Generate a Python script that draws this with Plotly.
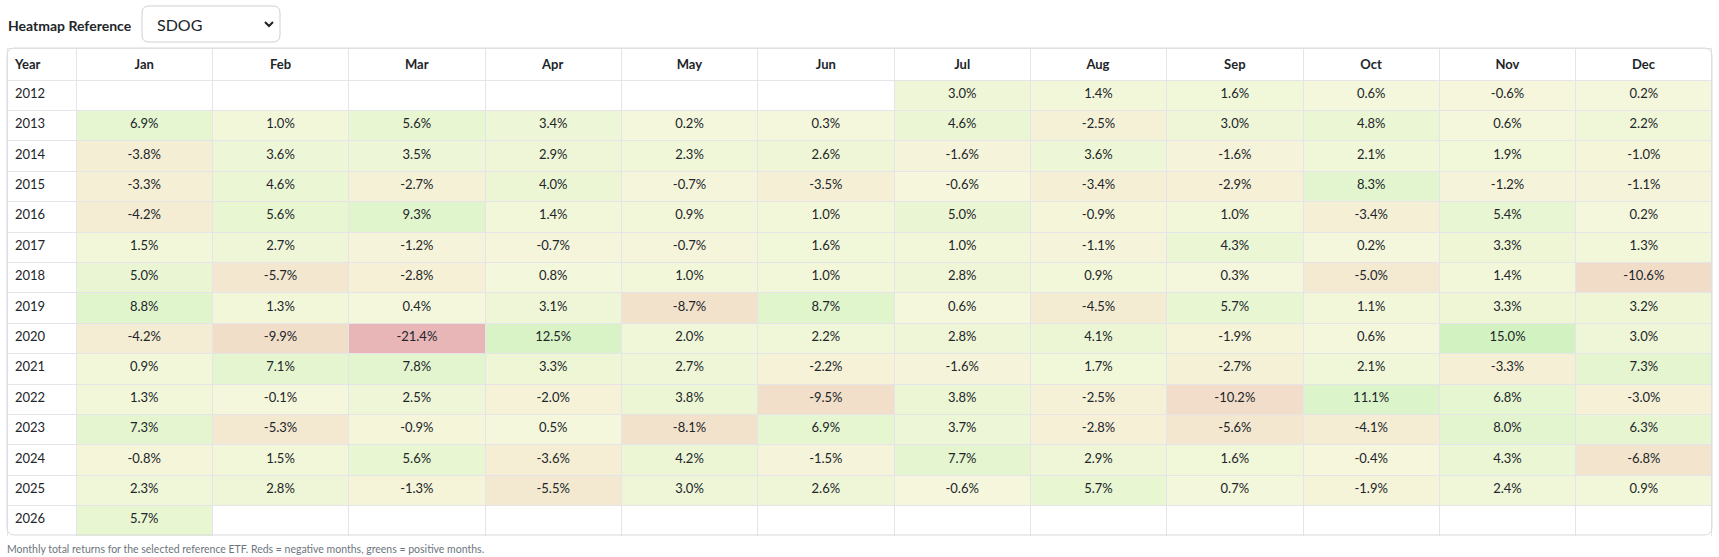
import plotly.graph_objects as go
from plotly.colors import sample_colorscale

W, H = 1719, 557

years = [str(y) for y in range(2012, 2027)]
months = ["Jan", "Feb", "Mar", "Apr", "May", "Jun", "Jul", "Aug", "Sep", "Oct", "Nov", "Dec"]

jan = [None, 6.9, -3.8, -3.3, -4.2, 1.5, 5.0, 8.8, -4.2, 0.9, 1.3, 7.3, -0.8, 2.3, 5.7]
feb = [None, 1.0, 3.6, 4.6, 5.6, 2.7, -5.7, 1.3, -9.9, 7.1, -0.1, -5.3, 1.5, 2.8, None]
mar = [None, 5.6, 3.5, -2.7, 9.3, -1.2, -2.8, 0.4, -21.4, 7.8, 2.5, -0.9, 5.6, -1.3, None]
apr = [None, 3.4, 2.9, 4.0, 1.4, -0.7, 0.8, 3.1, 12.5, 3.3, -2.0, 0.5, -3.6, -5.5, None]
may = [None, 0.2, 2.3, -0.7, 0.9, -0.7, 1.0, -8.7, 2.0, 2.7, 3.8, -8.1, 4.2, 3.0, None]
jun = [None, 0.3, 2.6, -3.5, 1.0, 1.6, 1.0, 8.7, 2.2, -2.2, -9.5, 6.9, -1.5, 2.6, None]
jul = [3.0, 4.6, -1.6, -0.6, 5.0, 1.0, 2.8, 0.6, 2.8, -1.6, 3.8, 3.7, 7.7, -0.6, None]
aug = [1.4, -2.5, 3.6, -3.4, -0.9, -1.1, 0.9, -4.5, 4.1, 1.7, -2.5, -2.8, 2.9, 5.7, None]
sep = [1.6, 3.0, -1.6, -2.9, 1.0, 4.3, 0.3, 5.7, -1.9, -2.7, -10.2, -5.6, 1.6, 0.7, None]
oct_ = [0.6, 4.8, 2.1, 8.3, -3.4, 0.2, -5.0, 1.1, 0.6, 2.1, 11.1, -4.1, -0.4, -1.9, None]
nov = [-0.6, 0.6, 1.9, -1.2, 5.4, 3.3, 1.4, 3.3, 15.0, -3.3, 6.8, 8.0, 4.3, 2.4, None]
dec = [0.2, 2.2, -1.0, -1.1, 0.2, 1.3, -10.6, 3.2, 3.0, 7.3, -3.0, 6.3, -6.8, 0.9, None]

month_cols = [jan, feb, mar, apr, may, jun, jul, aug, sep, oct_, nov, dec]

# colour scale (value -> colour), red for negative, pale yellow around zero, green for positive
scale_vals = [-21.4, -10.6, -5.7, -3.0, 0.0, 9.3, 15.0]
scale_cols = ["rgb(232,182,182)", "rgb(241,220,200)", "rgb(243,232,207)", "rgb(245,240,214)",
              "rgb(245,247,220)", "rgb(224,245,204)", "rgb(211,242,194)"]
vmin, vmax = scale_vals[0], scale_vals[-1]
colorscale = [[(v - vmin) / (vmax - vmin), c] for v, c in zip(scale_vals, scale_cols)]


def cell_color(v):
    if v is None:
        return "white"
    t = min(max((v - vmin) / (vmax - vmin), 0), 1)
    return sample_colorscale(colorscale, [t])[0]


def cell_text(v):
    return "" if v is None else f"{v:.1f}%"


FONT = "Segoe UI, Lato, sans-serif"
GRID = "#e4e4e9"
TXT = "#212529"

values = [years] + [[cell_text(v) for v in col] for col in month_cols]
fills = [["white"] * len(years)] + [[cell_color(v) for v in col] for col in month_cols]

x0, x1 = 7, 1712
y0 = 48
header_h = 31
row_h = 30.4
y1 = y0 + header_h + row_h * len(years)

fig = go.Figure(go.Table(
    domain=dict(x=[x0 / W, x1 / W], y=[1 - (y1 + 2) / H, 1 - y0 / H]),
    columnwidth=[69] + [136.3] * 12,
    header=dict(
        values=["<b>Year</b>"] + [f"<b>{m}</b>" for m in months],
        align=["left"] + ["center"] * 12,
        fill_color="white",
        line=dict(color=GRID, width=1),
        font=dict(family=FONT, size=13, color=TXT),
        height=header_h,
    ),
    cells=dict(
        values=values,
        align=["left"] + ["center"] * 12,
        fill_color=fills,
        line=dict(color=GRID, width=1),
        font=dict(family=FONT, size=13, color=TXT),
        height=row_h,
    ),
))


def px(x):
    return x / W


def py(y):
    return 1 - y / H


def to_paper_path(p):
    out = []
    for tok in p.split(" "):
        if "," in tok:
            a, b = tok.split(",")
            out.append(f"{px(float(a)):.6f},{py(float(b)):.6f}")
        else:
            out.append(tok)
    return " ".join(out)


def rounded(xa, ya, xb, yb, r):
    return (f"M {xa + r},{ya} L {xb - r},{ya} Q {xb},{ya} {xb},{ya + r} "
            f"L {xb},{yb - r} Q {xb},{yb} {xb - r},{yb} L {xa + r},{yb} Q {xa},{yb} {xa},{yb - r} "
            f"L {xa},{ya + r} Q {xa},{ya} {xa + r},{ya} Z")


shapes = [
    # rounded container border
    dict(type="path", xref="paper", yref="paper", path=to_paper_path(rounded(x0, y0, x1, y1, 8)),
         line=dict(color="#d9d9df", width=1), layer="above"),
    # select box
    dict(type="path", xref="paper", yref="paper", path=to_paper_path(rounded(142, 6, 280, 42, 7)),
         line=dict(color="#d0d0d6", width=1), fillcolor="white", layer="above"),
    # chevron
    dict(type="path", xref="paper", yref="paper",
         path=to_paper_path("M 265,22 L 269,26 L 273,22"),
         line=dict(color="#222", width=2), layer="above"),
]

annotations = [
    dict(text="<b>Heatmap Reference</b>", x=px(6), y=py(25), xref="paper", yref="paper",
         xanchor="left", yanchor="middle", showarrow=False,
         font=dict(family=FONT, size=14, color=TXT)),
    dict(text="SDOG", x=px(155), y=py(24.5), xref="paper", yref="paper",
         xanchor="left", yanchor="middle", showarrow=False,
         font=dict(family=FONT, size=16, color=TXT)),
    dict(text="Monthly total returns for the selected reference ETF. Reds = negative months, greens = positive months.",
         x=px(5), y=py(549), xref="paper", yref="paper",
         xanchor="left", yanchor="middle", showarrow=False,
         font=dict(family=FONT, size=10.5, color="#6c757d")),
]

fig.update_layout(
    width=W, height=H,
    margin=dict(l=0, r=0, t=0, b=0),
    paper_bgcolor="white", plot_bgcolor="white",
    shapes=shapes, annotations=annotations,
)

fig.write_html("out.html", config={"displayModeBar": False})
